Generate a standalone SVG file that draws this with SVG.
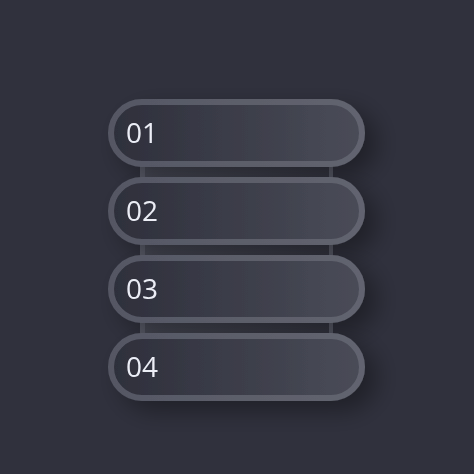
<svg xmlns="http://www.w3.org/2000/svg" width="474" height="474" viewBox="0 0 474 474">
<defs>
<linearGradient id="fill" x1="0" y1="0" x2="1" y2="0">
<stop offset="0" stop-color="#2e2f3b"/>
<stop offset="1" stop-color="#4a4c58"/>
</linearGradient>
<linearGradient id="rim" x1="0" y1="0" x2="1" y2="0">
<stop offset="0" stop-color="#555764"/>
<stop offset="0.5" stop-color="#5c5e6a"/>
<stop offset="1" stop-color="#62646f"/>
</linearGradient>
<linearGradient id="band" x1="0" y1="0" x2="1" y2="0">
<stop offset="0" stop-color="#474955"/>
<stop offset="1" stop-color="#343541"/>
</linearGradient>
<filter id="sh" x="-20%" y="-40%" width="160%" height="200%">
<feGaussianBlur in="SourceAlpha" stdDeviation="12"/>
<feOffset dx="12" dy="10"/>
<feComponentTransfer><feFuncA type="linear" slope="0.35"/></feComponentTransfer>
<feMerge><feMergeNode/><feMergeNode in="SourceGraphic"/></feMerge>
</filter>
</defs>
<style>
.pill{fill:url(#fill);stroke:url(#rim);stroke-width:6}
.num{font-family:"Open Sans","Noto Sans",sans-serif;font-size:28px;font-weight:500;fill:#eceef6}
.bar{fill:#585a67}
.band{fill:url(#band)}
</style>
<rect width="474" height="474" fill="#30313d"/>
<g id="connectors">
<rect class="band" x="140" y="165" width="193" height="14"/>
<rect class="bar" x="140" y="165" width="5" height="14"/>
<rect class="bar" x="329" y="165" width="4" height="14"/>
<rect class="band" x="140" y="243" width="193" height="14"/>
<rect class="bar" x="140" y="243" width="5" height="14"/>
<rect class="bar" x="329" y="243" width="4" height="14"/>
<rect class="band" x="140" y="321" width="193" height="14"/>
<rect class="bar" x="140" y="321" width="5" height="14"/>
<rect class="bar" x="329" y="321" width="4" height="14"/>
</g>
<g id="n1" filter="url(#sh)"><rect class="pill" x="111" y="102" width="251" height="62" rx="31"/><text class="num" x="126" y="143">01</text></g>
<g id="n2" filter="url(#sh)"><rect class="pill" x="111" y="180" width="251" height="62" rx="31"/><text class="num" x="126" y="221">02</text></g>
<g id="n3" filter="url(#sh)"><rect class="pill" x="111" y="258" width="251" height="62" rx="31"/><text class="num" x="126" y="299">03</text></g>
<g id="n4" filter="url(#sh)"><rect class="pill" x="111" y="336" width="251" height="62" rx="31"/><text class="num" x="126" y="377">04</text></g>
</svg>
